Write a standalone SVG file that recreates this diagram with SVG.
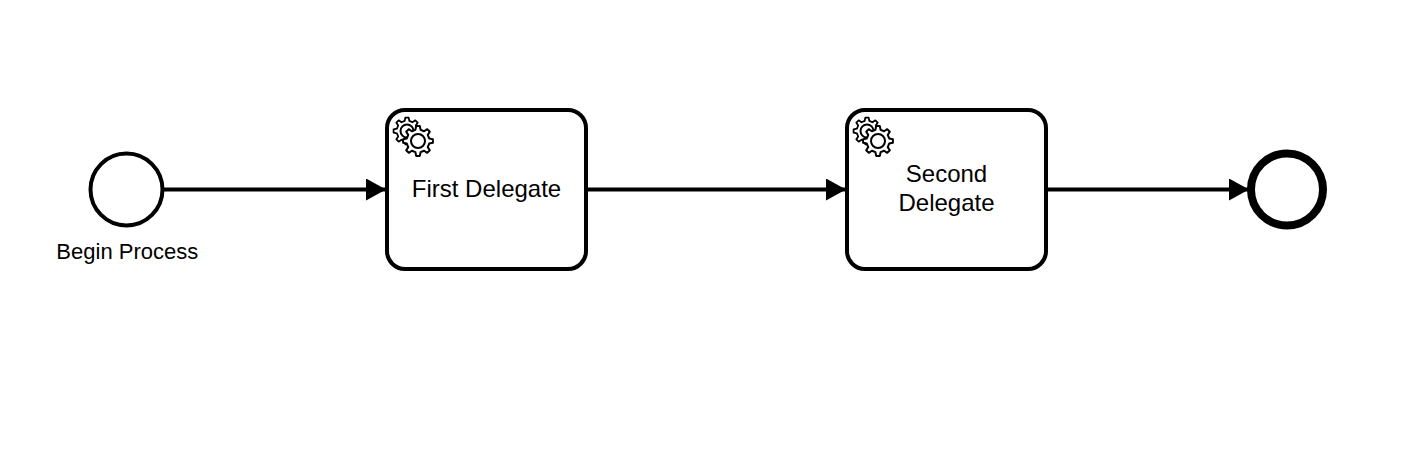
<svg xmlns="http://www.w3.org/2000/svg" width="1410" height="452" viewBox="0 0 1410 452">
<style>
.task{fill:#fff;stroke:#000;stroke-width:4}
.ev{fill:#fff;stroke:#000;stroke-width:4}
.end{fill:#fff;stroke:#000;stroke-width:8}
.flow{fill:none;stroke:#000;stroke-width:4}
.gear{fill:#fff;stroke:#000;stroke-width:2;stroke-linejoin:round}
.hole{fill:#fff;stroke:#000;stroke-width:2}
text{font-family:"Liberation Sans",Arial,sans-serif;fill:#000;text-anchor:middle}
.t{font-size:24px}
.l{font-size:22px}
</style>
<defs>
<path id="g" d="M14.89 -1.83L14.89 1.83L11.2 2.59L9.75 6.09L11.82 9.24L9.24 11.82L6.09 9.75L2.59 11.2L1.83 14.89L-1.83 14.89L-2.59 11.2L-6.09 9.75L-9.24 11.82L-11.82 9.24L-9.75 6.09L-11.2 2.59L-14.89 1.83L-14.89 -1.83L-11.2 -2.59L-9.75 -6.09L-11.82 -9.24L-9.24 -11.82L-6.09 -9.75L-2.59 -11.2L-1.83 -14.89L1.83 -14.89L2.59 -11.2L6.09 -9.75L9.24 -11.82L11.82 -9.24L9.75 -6.09L11.2 -2.59Z"/>
<g id="gears">
<use href="#g" class="gear" transform="translate(20 21) scale(.9)"/>
<circle class="hole" cx="20" cy="21" r="6.5"/>
<use href="#g" class="gear" transform="translate(31 31)"/>
<circle class="hole" cx="31" cy="31" r="7"/>
</g>
<marker id="arrow" markerUnits="userSpaceOnUse" markerWidth="22" markerHeight="22" refX="20" refY="11" orient="auto">
<path d="M0 0L20 11L0 22Z" fill="#000"/>
</marker>
</defs>
<g id="connectors">
<path class="flow" d="M163 189.500H386" marker-end="url(#arrow)"/>
<path class="flow" d="M587 189.500H846" marker-end="url(#arrow)"/>
<path class="flow" d="M1047 189.500H1249" marker-end="url(#arrow)"/>
</g>
<g id="start"><circle class="ev" cx="126.500" cy="189.500" r="36"/><text class="l" x="127.300" y="259">Begin Process</text></g>
<g id="task1"><rect class="task" x="387" y="110" width="199" height="159" rx="18"/><use href="#gears" x="387" y="110"/><text class="t" x="486.500" y="196.500">First Delegate</text></g>
<g id="task2"><rect class="task" x="847" y="110" width="199" height="159" rx="18"/><use href="#gears" x="847" y="110"/><text class="t" x="946.500" y="181.500">Second</text><text class="t" x="946.500" y="210.500">Delegate</text></g>
<g id="endEvent"><circle class="end" cx="1287" cy="189.500" r="36"/></g>
</svg>
